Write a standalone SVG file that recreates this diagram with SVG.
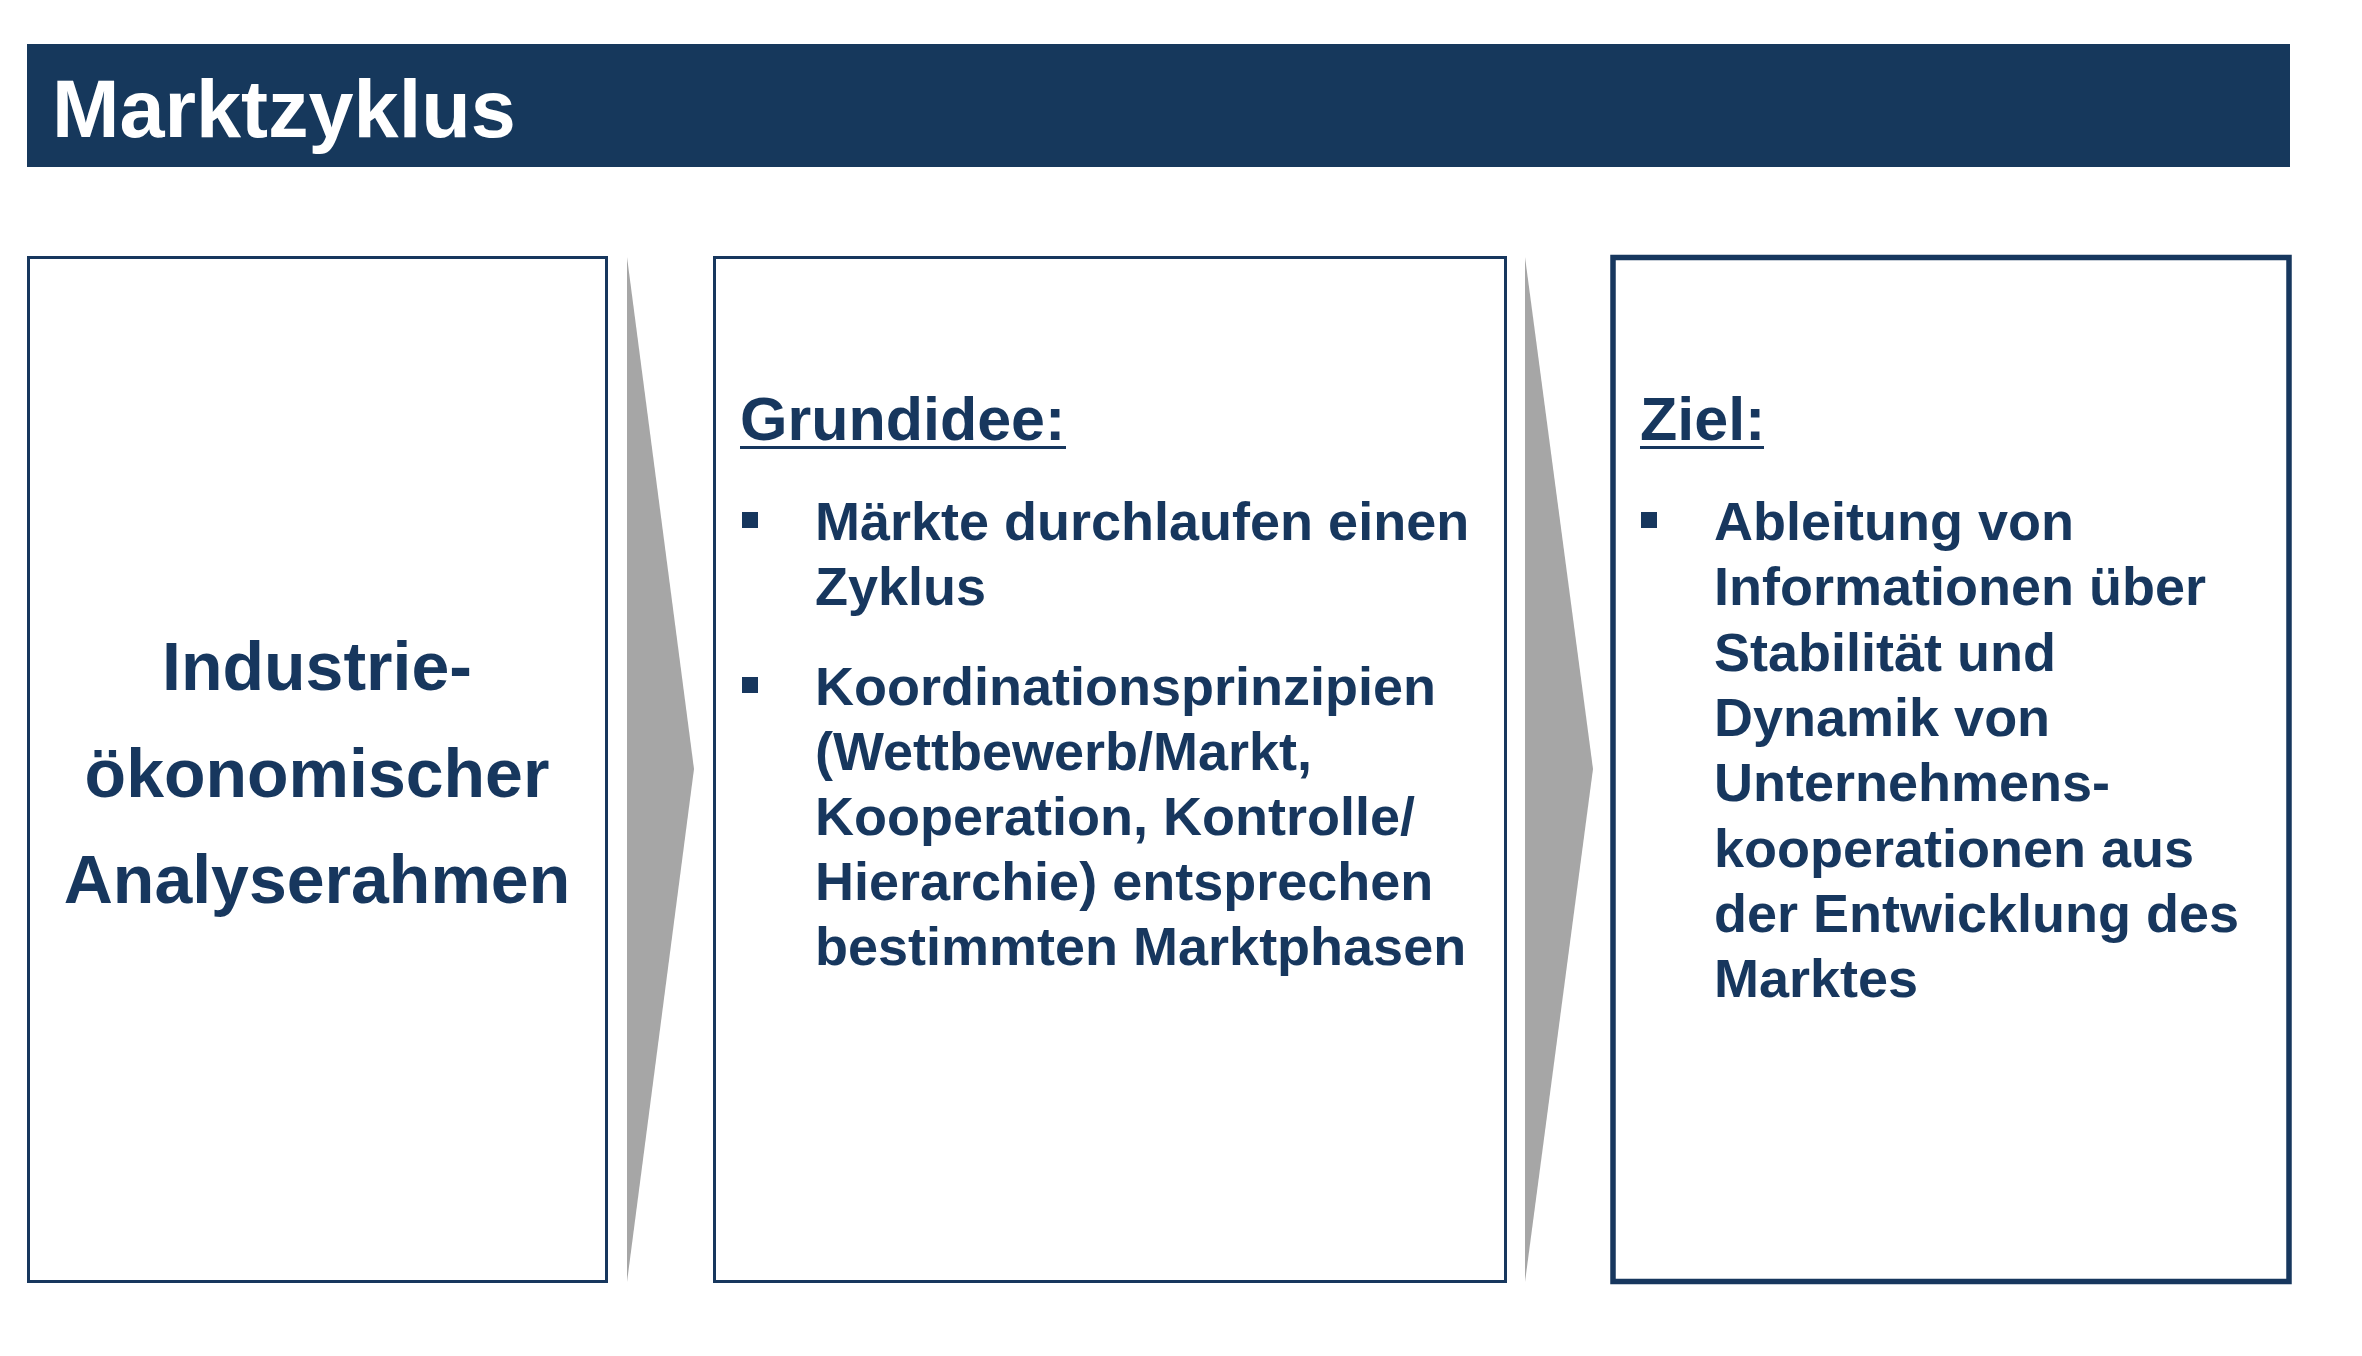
<svg xmlns="http://www.w3.org/2000/svg" width="2362" height="1356" viewBox="0 0 2362 1356">
  <style>
    .bg { fill: #ffffff; }
    .banner { fill: #16385C; }
    .title { font-family: "Liberation Sans", Arial, sans-serif; font-weight: bold; font-size: 81px; fill: #ffffff; }
    .box { fill: #ffffff; stroke: #17375E; stroke-width: 3; }
    .boxThick { fill: #ffffff; stroke: #17375E; stroke-width: 5.5; }
    .arrow { fill: #A6A6A6; stroke: none; }
    .big { font-family: "Liberation Sans", Arial, sans-serif; font-weight: bold; font-size: 68px; fill: #17375E; text-anchor: middle; }
    .head { font-family: "Liberation Sans", Arial, sans-serif; font-weight: bold; font-size: 61px; fill: #17375E; }
    .body { font-family: "Liberation Sans", Arial, sans-serif; font-weight: bold; font-size: 54px; fill: #17375E; }
    .ul { stroke: #17375E; stroke-width: 3; }
    .bullet { fill: #17375E; }
  </style>
  <rect class="bg" x="0" y="0" width="2362" height="1356"/>

  <g id="header">
    <rect class="banner" x="27" y="44" width="2263" height="123"/>
    <text class="title" x="52" y="137">Marktzyklus</text>
  </g>

  <g id="connectors">
    <polygon class="arrow" points="627,257 694,769 627,1282"/>
    <polygon class="arrow" points="1525,257 1593,769 1525,1282"/>
  </g>

  <g id="box-left">
    <rect class="box" x="28.5" y="257.5" width="578" height="1024"/>
    <text class="big" x="317" y="690">Industrie-</text>
    <text class="big" x="317" y="797">ökonomischer</text>
    <text class="big" x="317" y="903">Analyserahmen</text>
  </g>

  <g id="box-middle">
    <rect class="box" x="714.5" y="257.5" width="791" height="1024"/>
    <text class="head" x="740" y="440">Grundidee:</text>
    <line class="ul" x1="740" y1="447.5" x2="1066" y2="447.5"/>
    <rect class="bullet" x="742" y="512" width="16" height="16"/>
    <text class="body" x="815" y="540">Märkte durchlaufen einen</text>
    <text class="body" x="815" y="605">Zyklus</text>
    <rect class="bullet" x="742" y="677" width="16" height="16"/>
    <text class="body" x="815" y="705">Koordinationsprinzipien</text>
    <text class="body" x="815" y="770">(Wettbewerb/Markt,</text>
    <text class="body" x="815" y="835">Kooperation, Kontrolle/</text>
    <text class="body" x="815" y="900">Hierarchie) entsprechen</text>
    <text class="body" x="815" y="965">bestimmten Marktphasen</text>
  </g>

  <g id="box-right">
    <rect class="boxThick" x="1613" y="257.5" width="676" height="1024"/>
    <text class="head" x="1640" y="440">Ziel:</text>
    <line class="ul" x1="1640" y1="447.5" x2="1764" y2="447.5"/>
    <rect class="bullet" x="1641" y="512" width="16" height="16"/>
    <text class="body" x="1714" y="540">Ableitung von</text>
    <text class="body" x="1714" y="605">Informationen über</text>
    <text class="body" x="1714" y="671">Stabilität und</text>
    <text class="body" x="1714" y="736">Dynamik von</text>
    <text class="body" x="1714" y="801">Unternehmens-</text>
    <text class="body" x="1714" y="867">kooperationen aus</text>
    <text class="body" x="1714" y="932">der Entwicklung des</text>
    <text class="body" x="1714" y="997">Marktes</text>
  </g>
</svg>
